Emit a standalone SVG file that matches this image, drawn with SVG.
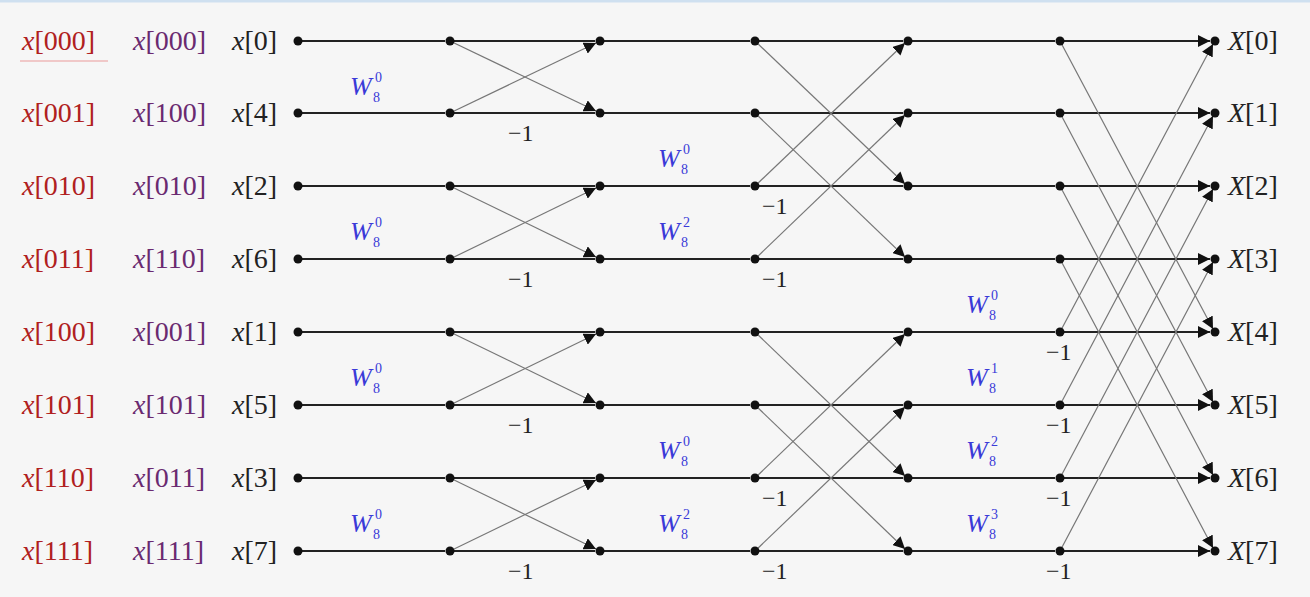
<svg xmlns="http://www.w3.org/2000/svg" width="1310" height="597" viewBox="0 0 1310 597">
<style>
.h{stroke:#222;stroke-width:2.2;fill:none}
.c{stroke:#777;stroke-width:1.2;fill:none}
.t{font-family:'Liberation Serif','DejaVu Serif',serif;font-size:28px}
.r{fill:#b02020}.p{fill:#6a2a70}.k{fill:#222}
.w{font-family:'Liberation Serif','DejaVu Serif',serif;font-size:26px;fill:#3a3ad8;font-style:italic}
.s{font-family:'Liberation Serif','DejaVu Serif',serif;font-size:14px;fill:#3a3ad8}
.m{font-family:'Liberation Serif','DejaVu Serif',serif;font-size:24px;fill:#222}
</style>
<defs>
<marker id="b" viewBox="0 0 10 10" refX="10" refY="5" markerWidth="12" markerHeight="12" orient="auto" markerUnits="userSpaceOnUse"><path d="M0,0L10,5L0,10z" fill="#111"/></marker>
</defs>
<rect width="1310" height="597" fill="#f6f6f6"/>
<line x1="0" y1="1" x2="1310" y2="1" stroke="#cfe0f0" stroke-width="3"/>
<line x1="20" y1="61" x2="108" y2="61" stroke="#f0c8c8" stroke-width="2"/>
<g id="connectors">
<g class="h" marker-end="url(#b)">
<path d="M298,41H445M450,41H595M600,41H750M755,41H903M908,41H1055M1060,41H1210"/>
<path d="M298,113H445M450,113H595M600,113H750M755,113H903M908,113H1055M1060,113H1210"/>
<path d="M298,186H445M450,186H595M600,186H750M755,186H903M908,186H1055M1060,186H1210"/>
<path d="M298,259H445M450,259H595M600,259H750M755,259H903M908,259H1055M1060,259H1210"/>
<path d="M298,332H445M450,332H595M600,332H750M755,332H903M908,332H1055M1060,332H1210"/>
<path d="M298,405H445M450,405H595M600,405H750M755,405H903M908,405H1055M1060,405H1210"/>
<path d="M298,478H445M450,478H595M600,478H750M755,478H903M908,478H1055M1060,478H1210"/>
<path d="M298,551H445M450,551H595M600,551H750M755,551H903M908,551H1055M1060,551H1210"/>
</g>
<g class="c" marker-end="url(#b)">
<line x1="450" y1="41" x2="596" y2="111"/><line x1="450" y1="113" x2="596" y2="43"/>
<line x1="450" y1="186" x2="596" y2="257"/><line x1="450" y1="259" x2="596" y2="188"/>
<line x1="450" y1="332" x2="596" y2="403"/><line x1="450" y1="405" x2="596" y2="334"/>
<line x1="450" y1="478" x2="596" y2="549"/><line x1="450" y1="551" x2="596" y2="480"/>
<line x1="755" y1="41" x2="905" y2="184"/><line x1="755" y1="186" x2="905" y2="43"/>
<line x1="755" y1="113" x2="905" y2="257"/><line x1="755" y1="259" x2="905" y2="115"/>
<line x1="755" y1="332" x2="905" y2="476"/><line x1="755" y1="478" x2="905" y2="334"/>
<line x1="755" y1="405" x2="905" y2="549"/><line x1="755" y1="551" x2="905" y2="407"/>
<line x1="1060" y1="41" x2="1213" y2="329"/><line x1="1060" y1="332" x2="1213" y2="44"/>
<line x1="1060" y1="113" x2="1213" y2="402"/><line x1="1060" y1="405" x2="1213" y2="116"/>
<line x1="1060" y1="186" x2="1213" y2="475"/><line x1="1060" y1="478" x2="1213" y2="189"/>
<line x1="1060" y1="259" x2="1213" y2="548"/><line x1="1060" y1="551" x2="1213" y2="262"/>
</g>
</g>
<g id="dots" fill="#111">
<g id="row0"><circle cx="298" cy="41" r="4.5"/><circle cx="450" cy="41" r="4.5"/><circle cx="600" cy="41" r="4.5"/><circle cx="755" cy="41" r="4.5"/><circle cx="908" cy="41" r="4.5"/><circle cx="1060" cy="41" r="4.5"/><circle cx="1215" cy="41" r="4.5"/></g>
<g id="row1"><circle cx="298" cy="113" r="4.5"/><circle cx="450" cy="113" r="4.5"/><circle cx="600" cy="113" r="4.5"/><circle cx="755" cy="113" r="4.5"/><circle cx="908" cy="113" r="4.5"/><circle cx="1060" cy="113" r="4.5"/><circle cx="1215" cy="113" r="4.5"/></g>
<g id="row2"><circle cx="298" cy="186" r="4.5"/><circle cx="450" cy="186" r="4.5"/><circle cx="600" cy="186" r="4.5"/><circle cx="755" cy="186" r="4.5"/><circle cx="908" cy="186" r="4.5"/><circle cx="1060" cy="186" r="4.5"/><circle cx="1215" cy="186" r="4.5"/></g>
<g id="row3"><circle cx="298" cy="259" r="4.5"/><circle cx="450" cy="259" r="4.5"/><circle cx="600" cy="259" r="4.5"/><circle cx="755" cy="259" r="4.5"/><circle cx="908" cy="259" r="4.5"/><circle cx="1060" cy="259" r="4.5"/><circle cx="1215" cy="259" r="4.5"/></g>
<g id="row4"><circle cx="298" cy="332" r="4.5"/><circle cx="450" cy="332" r="4.5"/><circle cx="600" cy="332" r="4.5"/><circle cx="755" cy="332" r="4.5"/><circle cx="908" cy="332" r="4.5"/><circle cx="1060" cy="332" r="4.5"/><circle cx="1215" cy="332" r="4.5"/></g>
<g id="row5"><circle cx="298" cy="405" r="4.5"/><circle cx="450" cy="405" r="4.5"/><circle cx="600" cy="405" r="4.5"/><circle cx="755" cy="405" r="4.5"/><circle cx="908" cy="405" r="4.5"/><circle cx="1060" cy="405" r="4.5"/><circle cx="1215" cy="405" r="4.5"/></g>
<g id="row6"><circle cx="298" cy="478" r="4.5"/><circle cx="450" cy="478" r="4.5"/><circle cx="600" cy="478" r="4.5"/><circle cx="755" cy="478" r="4.5"/><circle cx="908" cy="478" r="4.5"/><circle cx="1060" cy="478" r="4.5"/><circle cx="1215" cy="478" r="4.5"/></g>
<g id="row7"><circle cx="298" cy="551" r="4.5"/><circle cx="450" cy="551" r="4.5"/><circle cx="600" cy="551" r="4.5"/><circle cx="755" cy="551" r="4.5"/><circle cx="908" cy="551" r="4.5"/><circle cx="1060" cy="551" r="4.5"/><circle cx="1215" cy="551" r="4.5"/></g>
</g>
<g id="inputs" class="t">
<text x="22" y="50" class="r"><tspan font-style="italic">x</tspan>[000]</text>
<text x="22" y="122" class="r"><tspan font-style="italic">x</tspan>[001]</text>
<text x="22" y="195" class="r"><tspan font-style="italic">x</tspan>[010]</text>
<text x="22" y="268" class="r"><tspan font-style="italic">x</tspan>[011]</text>
<text x="22" y="341" class="r"><tspan font-style="italic">x</tspan>[100]</text>
<text x="22" y="414" class="r"><tspan font-style="italic">x</tspan>[101]</text>
<text x="22" y="487" class="r"><tspan font-style="italic">x</tspan>[110]</text>
<text x="22" y="560" class="r"><tspan font-style="italic">x</tspan>[111]</text>
<text x="133" y="50" class="p"><tspan font-style="italic">x</tspan>[000]</text>
<text x="133" y="122" class="p"><tspan font-style="italic">x</tspan>[100]</text>
<text x="133" y="195" class="p"><tspan font-style="italic">x</tspan>[010]</text>
<text x="133" y="268" class="p"><tspan font-style="italic">x</tspan>[110]</text>
<text x="133" y="341" class="p"><tspan font-style="italic">x</tspan>[001]</text>
<text x="133" y="414" class="p"><tspan font-style="italic">x</tspan>[101]</text>
<text x="133" y="487" class="p"><tspan font-style="italic">x</tspan>[011]</text>
<text x="133" y="560" class="p"><tspan font-style="italic">x</tspan>[111]</text>
<text x="232" y="50" class="k"><tspan font-style="italic">x</tspan>[0]</text>
<text x="232" y="122" class="k"><tspan font-style="italic">x</tspan>[4]</text>
<text x="232" y="195" class="k"><tspan font-style="italic">x</tspan>[2]</text>
<text x="232" y="268" class="k"><tspan font-style="italic">x</tspan>[6]</text>
<text x="232" y="341" class="k"><tspan font-style="italic">x</tspan>[1]</text>
<text x="232" y="414" class="k"><tspan font-style="italic">x</tspan>[5]</text>
<text x="232" y="487" class="k"><tspan font-style="italic">x</tspan>[3]</text>
<text x="232" y="560" class="k"><tspan font-style="italic">x</tspan>[7]</text>
</g>
<g id="outputs" class="t k">
<text x="1228" y="50"><tspan font-style="italic">X</tspan>[0]</text>
<text x="1228" y="122"><tspan font-style="italic">X</tspan>[1]</text>
<text x="1228" y="195"><tspan font-style="italic">X</tspan>[2]</text>
<text x="1228" y="268"><tspan font-style="italic">X</tspan>[3]</text>
<text x="1228" y="341"><tspan font-style="italic">X</tspan>[4]</text>
<text x="1228" y="414"><tspan font-style="italic">X</tspan>[5]</text>
<text x="1228" y="487"><tspan font-style="italic">X</tspan>[6]</text>
<text x="1228" y="560"><tspan font-style="italic">X</tspan>[7]</text>
</g>
<g id="twiddles">
<text class="w" x="350" y="95">W</text><text class="s" x="375" y="82">0</text><text class="s" x="373" y="102">8</text>
<text class="w" x="350" y="240">W</text><text class="s" x="375" y="227">0</text><text class="s" x="373" y="247">8</text>
<text class="w" x="350" y="386">W</text><text class="s" x="375" y="373">0</text><text class="s" x="373" y="393">8</text>
<text class="w" x="350" y="532">W</text><text class="s" x="375" y="519">0</text><text class="s" x="373" y="539">8</text>
<text class="w" x="658" y="167">W</text><text class="s" x="683" y="154">0</text><text class="s" x="681" y="174">8</text>
<text class="w" x="658" y="240">W</text><text class="s" x="683" y="227">2</text><text class="s" x="681" y="247">8</text>
<text class="w" x="658" y="459">W</text><text class="s" x="683" y="446">0</text><text class="s" x="681" y="466">8</text>
<text class="w" x="658" y="532">W</text><text class="s" x="683" y="519">2</text><text class="s" x="681" y="539">8</text>
<text class="w" x="966" y="313">W</text><text class="s" x="991" y="300">0</text><text class="s" x="989" y="320">8</text>
<text class="w" x="966" y="386">W</text><text class="s" x="991" y="373">1</text><text class="s" x="989" y="393">8</text>
<text class="w" x="966" y="459">W</text><text class="s" x="991" y="446">2</text><text class="s" x="989" y="466">8</text>
<text class="w" x="966" y="532">W</text><text class="s" x="991" y="519">3</text><text class="s" x="989" y="539">8</text>
</g>
<g id="minus" class="m">
<text x="508" y="141">−1</text><text x="508" y="287">−1</text><text x="508" y="433">−1</text><text x="508" y="579">−1</text>
<text x="762" y="214">−1</text><text x="762" y="287">−1</text><text x="762" y="506">−1</text><text x="762" y="579">−1</text>
<text x="1046" y="360">−1</text><text x="1046" y="433">−1</text><text x="1046" y="506">−1</text><text x="1046" y="579">−1</text>
</g>
</svg>
